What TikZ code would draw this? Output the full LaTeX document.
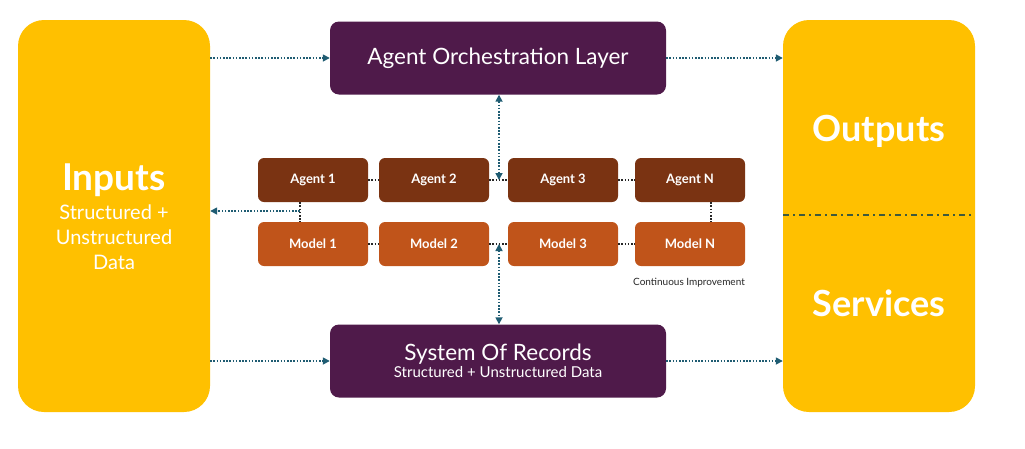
\documentclass[tikz,border=0pt]{standalone}
\usepackage{fontspec}
\setmainfont{Lato}
\usetikzlibrary{arrows.meta}
\definecolor{ylw}{HTML}{FFC000}
\definecolor{plum}{HTML}{4F1A4A}
\definecolor{agentc}{HTML}{7A3312}
\definecolor{modelc}{HTML}{C0541A}
\definecolor{tealc}{HTML}{1F5C72}
\definecolor{divc}{HTML}{3E5A3C}
\tikzset{
  bigbox/.style={fill=ylw, rounded corners=26pt, minimum width=192pt, minimum height=392pt, inner sep=0pt},
  layerbox/.style={fill=plum, rounded corners=9pt, minimum width=336pt, minimum height=73pt, text=white, inner sep=0pt, align=center},
  agentbox/.style={fill=agentc, rounded corners=6pt, minimum width=110pt, minimum height=44pt, text=white, font=\bfseries\fontsize{13}{15}\selectfont, inner sep=0pt},
  modelbox/.style={fill=modelc, rounded corners=6pt, minimum width=110pt, minimum height=44pt, text=white, font=\bfseries\fontsize{13}{15}\selectfont, inner sep=0pt},
  flow/.style={tealc, line width=1.6pt, dash pattern=on 1.6pt off 1.6pt, -{Triangle[length=7pt,width=7pt]}},
  flowboth/.style={tealc, line width=1.6pt, dash pattern=on 1.6pt off 1.6pt, {Triangle[length=7pt,width=7pt]}-{Triangle[length=7pt,width=7pt]}},
  link/.style={black!85, line width=1.6pt, dash pattern=on 1.6pt off 1.6pt},
}
\begin{document}
\begin{tikzpicture}[x=1pt,y=-1pt]
\useasboundingbox (0,0) rectangle (1025,448);
% big boxes
\node[bigbox] (inputs) at (114,216) {};
\node[bigbox] (outputs) at (879,216) {};
\node[text=white, align=center, font=\bfseries\fontsize{37}{40}\selectfont] (intitle) at (114,180) {Inputs};
\node[text=white, align=center, font=\fontsize{20}{25}\selectfont] (insub) at (114,237) {Structured +\\Unstructured\\Data};
\node[text=white, font=\bfseries\fontsize{36}{38}\selectfont] (outtitle) at (879,131) {Outputs};
\node[text=white, font=\bfseries\fontsize{36}{38}\selectfont] (servtitle) at (879,303) {Services};
\coordinate (dl) at (783,215);
\coordinate (dr) at (972,215);
\draw[divc, line width=2pt, dash pattern=on 6pt off 4pt on 2pt off 4pt] (dl) -- (dr);
% layers
\node[layerbox, font=\fontsize{22.5}{25}\selectfont] (aol) at (498,58) {Agent Orchestration Layer};
\node[layerbox] (sor) at (498,361) {{\fontsize{22.5}{25}\selectfont System Of Records}\\[1pt]{\fontsize{15}{17}\selectfont Structured + Unstructured Data}};
% agents
\node[agentbox] (a1) at (313,180) {Agent 1};
\node[agentbox] (a2) at (434,180) {Agent 2};
\node[agentbox] (a3) at (563,180) {Agent 3};
\node[agentbox] (an) at (690,180) {Agent N};
\node[modelbox] (m1) at (313,244) {Model 1};
\node[modelbox] (m2) at (434,244) {Model 2};
\node[modelbox] (m3) at (563,244) {Model 3};
\node[modelbox] (mn) at (690,244) {Model N};
\node[font=\fontsize{10}{12}\selectfont, text=black!85] (ci) at (689,283) {Continuous Improvement};
% links between agents/models
\draw[link] (a1) -- (a2);
\draw[link] (a2) -- (a3);
\draw[link] (a3) -- (an);
\draw[link] (m1) -- (m2);
\draw[link] (m2) -- (m3);
\draw[link] (m3) -- (mn);
\coordinate (v1) at (300,211);
\draw[link] (a1.south -| v1) -- (m1.north -| v1);
\coordinate (vn) at (711,211);
\draw[link] (an.south -| vn) -- (mn.north -| vn);
\draw[flow] (v1) -- (inputs.east |- v1);
% vertical arrows
\coordinate (ca) at (499,180);
\coordinate (cm) at (499,244);
\draw[flowboth] (aol.south -| ca) -- (ca);
\draw[flowboth] (cm) -- (sor.north -| cm);
% main flows
\draw[flow] (inputs.east |- aol) -- (aol.west);
\draw[flow] (aol.east) -- (outputs.west |- aol);
\draw[flow] (inputs.east |- sor) -- (sor.west);
\draw[flow] (sor.east) -- (outputs.west |- sor);
\end{tikzpicture}
\end{document}
